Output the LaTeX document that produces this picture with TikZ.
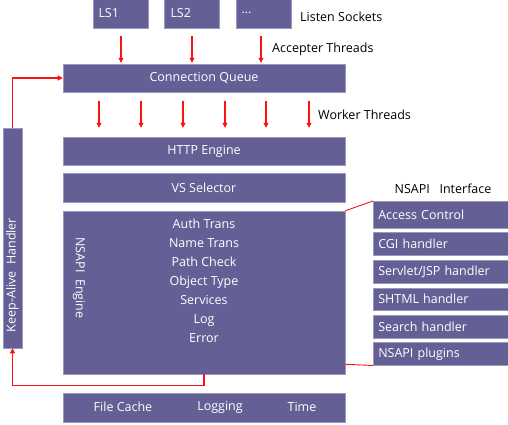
\documentclass[tikz,border=0pt]{standalone}
\usepackage{fontspec}
\setmainfont{Open Sans}
\usetikzlibrary{arrows.meta}
\definecolor{boxfill}{HTML}{646096}
\definecolor{boxline}{HTML}{9A98C0}
\definecolor{arrred}{HTML}{FF1010}
\tikzset{
  box/.style={rectangle, fill=boxfill, draw=boxline, line width=0.5bp, text=white, inner sep=0pt, font=\fontsize{12.5bp}{14bp}\selectfont},
  lbl/.style={inner sep=0pt, text=black, font=\fontsize{12.5bp}{14bp}\selectfont},
  wtxt/.style={inner sep=0pt, text=white, font=\fontsize{12.5bp}{14bp}\selectfont},
  arr/.style={draw=arrred, line width=1.1bp, -{Triangle[length=5bp,width=5bp]}},
  redline/.style={draw=arrred, line width=0.9bp},
}
\begin{document}
\begin{tikzpicture}[x=1bp,y=-1bp]
\useasboundingbox (0,0) rectangle (508,424);
% top sockets
\node[box, minimum width=55bp, minimum height=30bp, text width=45bp, align=left] (ls1) at (121,13) {LS1};
\node[box, minimum width=55bp, minimum height=30bp, text width=43bp, align=left] (ls2) at (192,13) {LS2};
\node[box, minimum width=55bp, minimum height=30bp, text width=44bp, align=left] (ls3) at (263.5,13) {...};
\node[lbl, anchor=west] (lsl) at (300,17) {Listen Sockets};
% connection queue
\node[box, minimum width=282bp, minimum height=28bp] (cq) at (204,78) {Connection Queue};
\draw[arr, shorten >=1bp] ([yshift=-8bp]ls1.south) -- (ls1.south |- cq.north);
\draw[arr, shorten >=1bp] ([yshift=-8bp]ls2.south) -- (ls2.south |- cq.north);
\draw[arr, shorten >=1bp] ([xshift=-2.5bp,yshift=-8bp]ls3.south) -- ([xshift=-2.5bp]ls3.south |- cq.north);
\node[lbl, anchor=west] (acc) at (272,49) {Accepter Threads};
% http engine
\node[box, minimum width=282bp, minimum height=28bp] (http) at (204,151) {HTTP Engine};
\foreach \dx in {-105,-63,-21,21,62,105}{
  \draw[arr, shorten <=9bp, shorten >=9bp] ([xshift=\dx bp]cq.south) -- ([xshift=\dx bp]http.north);
}
\node[lbl, anchor=west] (wt) at (318,115) {Worker Threads};
% vs selector
\node[box, minimum width=282bp, minimum height=29bp] (vs) at (204,187.5) {VS Selector};
% NSAPI engine
\node[box, minimum width=282bp, minimum height=163bp] (ns) at (204,292.5) {};
\node[wtxt, align=center, font=\fontsize{12.5bp}{19bp}\selectfont] (nsl) at (204,281) {Auth Trans\\Name Trans\\Path Check\\Object Type\\Services\\Log\\Error};
\node[wtxt, rotate=-90] (nse) at (79,278) {NSAPI\ \ Engine};
% bottom
\node[box, minimum width=282bp, minimum height=29bp] (bot) at (204,407.5) {};
\node[wtxt] (fc) at (123,407) {File Cache};
\node[wtxt] (lg) at (220,407) {Logging};
\node[wtxt] (tm) at (302,407) {Time};
% keep-alive
\node[box, minimum width=19bp, minimum height=220bp] (ka) at (12.5,238) {};
\node[wtxt, rotate=90] (kal) at (12.5,275) {Keep-Alive\ \ Handler};
\draw[arr] (ka.north) |- (cq.west);
\draw[arr] (ns.south) -- ++(0,11) -| (ka.south);
% right handlers
\node[lbl] (nsi) at (443,189) {NSAPI\ \ \ Interface};
\foreach \n/\t/\ya/\h in {ac/Access Control/201/27, cgi/CGI handler/232/23, sv/Servlet\slash JSP handler/260/23, sh/SHTML handler/288/22, se/Search handler/315/23, pl/NSAPI plugins/342/23}{
  \node[box, minimum width=136bp, minimum height=\h bp, text width=126bp, align=left, anchor=north west] (\n) at (373,\ya) {\t};
}
\draw[redline] (ns.north east) -- (ac.north west);
\draw[redline] ([yshift=10bp]ns.south east) -- (pl.south west);
\end{tikzpicture}
\end{document}
